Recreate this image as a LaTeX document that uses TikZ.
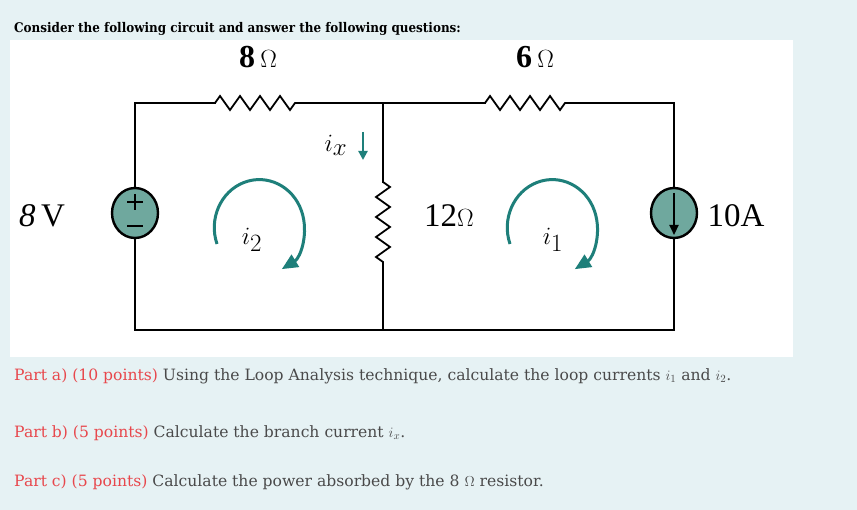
\documentclass[tikz,border=0pt]{standalone}
\usepackage{fontspec}
\setmainfont{DejaVu Serif}
\newfontfamily\tms{Liberation Serif}
\newfontfamily\ttl{DejaVu Serif Condensed}
\usetikzlibrary{arrows.meta,decorations.pathmorphing,shapes.geometric,calc}
\definecolor{bgc}{HTML}{E6F2F4}
\definecolor{srcfill}{HTML}{6FA89E}
\definecolor{teal2}{HTML}{1E7F7A}
\definecolor{redt}{HTML}{E8474C}
\definecolor{grayt}{HTML}{4A4A4A}
\begin{document}
\begin{tikzpicture}[x=1pt,y=-1pt,
  wire/.style={line width=2.6pt,line cap=rect},
  res/.style={line width=1.8pt,decorate,decoration={zigzag,segment length=20pt,amplitude=7pt}},
  lbl/.style={font=\tms\fontsize{33}{33}\selectfont,inner sep=0pt},
  src/.style={draw=black,line width=2.4pt,fill=srcfill,ellipse,minimum width=46pt,minimum height=50pt,inner sep=0pt},
  loop/.style={teal2,line width=3pt,-{Triangle[length=16pt,width=14pt]}},
  q/.style={anchor=west,inner sep=0pt,font=\fontsize{15.6}{16}\selectfont}]
\useasboundingbox (0,0) rectangle (857,510);
\fill[bgc] (0,0) rectangle (857,510);
\fill[white] (10,40) rectangle (793,357);
\node[anchor=west,inner sep=0pt,font=\ttl\bfseries\fontsize{13.3}{14}\selectfont] (title) at (14,29) {Consider the following circuit and answer the following questions:};
% corners
\coordinate (tl) at (135,103); \coordinate (tm) at (383,103); \coordinate (tr) at (674,103);
\coordinate (bl) at (135,330); \coordinate (bm) at (383,330); \coordinate (br) at (674,330);
\coordinate (r1a) at (215,103); \coordinate (r1b) at (300,103);
\coordinate (r2a) at (485,103); \coordinate (r2b) at (570,103);
\coordinate (r3a) at (383,182); \coordinate (r3b) at (383,266);
\node[src] (vs) at (135,213) {};
\node[src] (cs) at (674,213) {};
\draw[wire] (vs.north) -- (tl) -- (r1a);
\draw[wire] (r1b) -- (r2a);
\draw[wire] (r2b) -- (tr) -- (cs.north);
\draw[wire] (vs.south) -- (bl) -- (br) -- (cs.south);
\draw[wire] (tm) -- (r3a);
\draw[wire] (r3b) -- (bm);
\draw[res] (r1a) -- (r1b);
\draw[res] (r2a) -- (r2b);
\draw[res] (r3a) -- (r3b);
% source symbols
\draw[line width=2pt] ($(vs)+(-8,-11)$) -- ++(16,0) ($(vs)+(0,-19)$) -- ++(0,16) ($(vs)+(-8,13)$) -- ++(16,0);
\draw[line width=2.2pt,-{Triangle[length=10pt,width=9pt]}] ($(cs)+(0,-20)$) -- ($(cs)+(0,22)$);
% labels
\node[lbl,font=\tms\bfseries\fontsize{32}{32}\selectfont] (l8) at (258,57) {8\,$\Omega$};
\node[lbl,font=\tms\bfseries\fontsize{32}{32}\selectfont] (l6) at (535,57) {6\,$\Omega$};
\node[lbl] (l12) at (449,216) {12$\Omega$};
\node[lbl] (l8v) at (42,216) {\itshape 8\,\upshape V};
\node[lbl] (l10) at (736,216) {10A};
\node[lbl] (lix) at (336,145) {$i_x$};
\draw[teal2,line width=2.2pt,-{Triangle[length=9pt,width=9pt]}] (363,132) -- (363,160);
\node[lbl] (li2) at (252,240) {$i_2$};
\node[lbl] (li1) at (553,240) {$i_1$};
\draw[loop] (217,244) arc[start angle=160,end angle=420,x radius=45,y radius=48];
\draw[loop] (510,244) arc[start angle=160,end angle=420,x radius=45,y radius=48];
% questions
\node[q] (qa) at (14,376) {\color{redt}Part a) (10 points) \color{grayt}Using the Loop Analysis technique, calculate the loop currents $i_1$ and $i_2$.};
\node[q] (qb) at (14,433) {\color{redt}Part b) (5 points) \color{grayt}Calculate the branch current $i_x$.};
\node[q] (qc) at (14,482) {\color{redt}Part c) (5 points) \color{grayt}Calculate the power absorbed by the 8 $\Omega$ resistor.};
\end{tikzpicture}
\end{document}
